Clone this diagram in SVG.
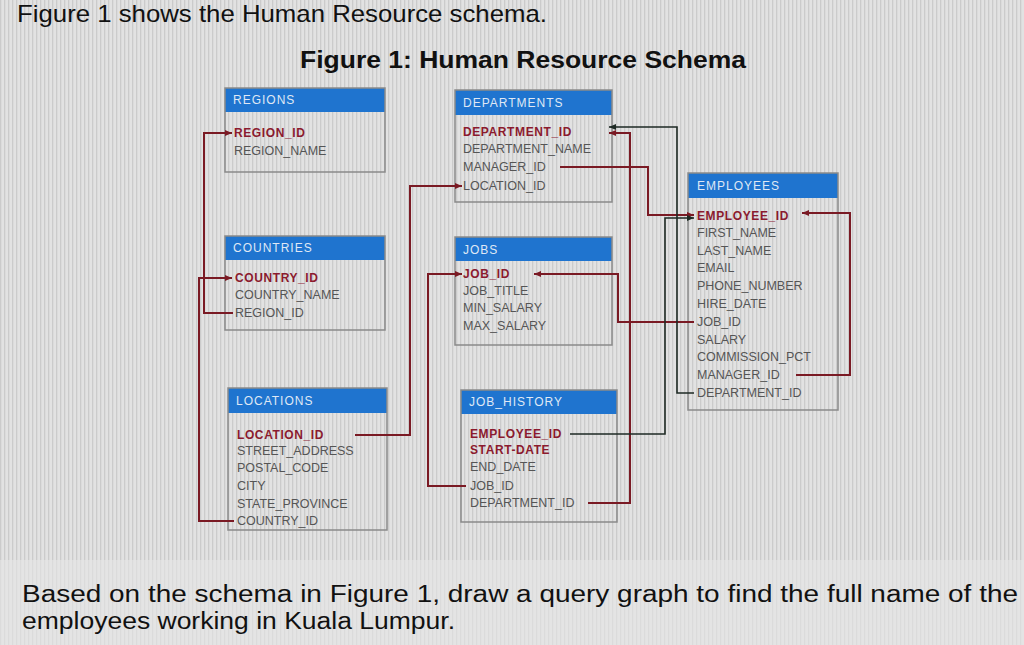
<svg xmlns="http://www.w3.org/2000/svg" width="1024" height="645" viewBox="0 0 1024 645">
<defs>
<pattern id="st" width="4" height="4" patternUnits="userSpaceOnUse"><rect width="4" height="4" fill="#e2e2e2"/><rect width="1.3" height="4" fill="#cbcbcb"/></pattern>
<marker id="ar" markerWidth="8" markerHeight="8" refX="7" refY="4" orient="auto" markerUnits="userSpaceOnUse"><path d="M0,1 L7,4 L0,7 Z" fill="#7a1a24"/></marker>
<marker id="ad" markerWidth="8" markerHeight="8" refX="7" refY="4" orient="auto" markerUnits="userSpaceOnUse"><path d="M0,1 L7,4 L0,7 Z" fill="#1e2a24"/></marker>
</defs>
<style>
.hd{fill:#1f74cf}
.bx{fill:none;stroke:#8a8a8a;stroke-width:1.5}
.ht{font-family:"Liberation Sans",Arial,sans-serif;font-size:12px;fill:#dfe8f5;letter-spacing:1px}
.f{font-family:"Liberation Sans",Arial,sans-serif;font-size:12.5px;fill:#555}
.k{font-family:"Liberation Sans",Arial,sans-serif;font-size:12px;font-weight:bold;fill:#8b1a2e;letter-spacing:0.6px}
.r{fill:none;stroke:#7a1a24;stroke-width:2}
.d{fill:none;stroke:#1e2a24;stroke-width:1.6}
.t{font-family:"Liberation Sans",Arial,sans-serif;fill:#111}
</style>
<rect width="1024" height="645" fill="url(#st)"/>
<rect y="560" width="1024" height="85" fill="#e6e6e6" opacity="0.6"/>
<text class="t" x="17" y="22" font-size="24" textLength="530" lengthAdjust="spacingAndGlyphs">Figure 1 shows the Human Resource schema.</text>
<text class="t" x="300" y="68" font-size="23" font-weight="bold" textLength="446" lengthAdjust="spacingAndGlyphs">Figure 1: Human Resource Schema</text>
<text class="t" x="22" y="602" font-size="23" textLength="996" lengthAdjust="spacingAndGlyphs">Based on the schema in Figure 1, draw a query graph to find the full name of the</text>
<text class="t" x="22" y="629" font-size="23" textLength="433" lengthAdjust="spacingAndGlyphs">employees working in Kuala Lumpur.</text>

<g id="regions"><rect class="hd" x="225" y="88" width="160" height="24"/><rect class="bx" x="225" y="88" width="160" height="84"/><text class="ht" x="233" y="104">REGIONS</text>
<text class="k" x="234" y="137">REGION_ID</text><text class="f" x="234" y="155">REGION_NAME</text></g>
<g id="departments"><rect class="hd" x="455" y="90" width="157" height="25"/><rect class="bx" x="455" y="90" width="157" height="112"/><text class="ht" x="463" y="107">DEPARTMENTS</text>
<text class="k" x="463" y="136">DEPARTMENT_ID</text><text class="f" x="463" y="153">DEPARTMENT_NAME</text><text class="f" x="463" y="171">MANAGER_ID</text><text class="f" x="463" y="190">LOCATION_ID</text></g>
<g id="employees"><rect class="hd" x="688" y="173" width="150" height="25"/><rect class="bx" x="688" y="173" width="150" height="237"/><text class="ht" x="697" y="190">EMPLOYEES</text>
<text class="k" x="697" y="220">EMPLOYEE_ID</text><text class="f" x="697" y="237">FIRST_NAME</text><text class="f" x="697" y="255">LAST_NAME</text><text class="f" x="697" y="272">EMAIL</text><text class="f" x="697" y="290">PHONE_NUMBER</text><text class="f" x="697" y="308">HIRE_DATE</text><text class="f" x="697" y="326">JOB_ID</text><text class="f" x="697" y="344">SALARY</text><text class="f" x="697" y="361">COMMISSION_PCT</text><text class="f" x="697" y="379">MANAGER_ID</text><text class="f" x="697" y="397">DEPARTMENT_ID</text></g>
<g id="countries"><rect class="hd" x="225" y="236" width="160" height="24"/><rect class="bx" x="225" y="236" width="160" height="94"/><text class="ht" x="233" y="252">COUNTRIES</text>
<text class="k" x="235" y="282">COUNTRY_ID</text><text class="f" x="235" y="299">COUNTRY_NAME</text><text class="f" x="235" y="317">REGION_ID</text></g>
<g id="jobs"><rect class="hd" x="455" y="237" width="157" height="24"/><rect class="bx" x="455" y="237" width="157" height="108"/><text class="ht" x="463" y="254">JOBS</text>
<text class="k" x="463" y="278">JOB_ID</text><text class="f" x="463" y="295">JOB_TITLE</text><text class="f" x="463" y="312">MIN_SALARY</text><text class="f" x="463" y="330">MAX_SALARY</text></g>
<g id="locations"><rect class="hd" x="228" y="388" width="159" height="25"/><rect class="bx" x="228" y="388" width="159" height="142"/><text class="ht" x="236" y="405">LOCATIONS</text>
<text class="k" x="237" y="439">LOCATION_ID</text><text class="f" x="237" y="455">STREET_ADDRESS</text><text class="f" x="237" y="472">POSTAL_CODE</text><text class="f" x="237" y="490">CITY</text><text class="f" x="237" y="508">STATE_PROVINCE</text><text class="f" x="237" y="525">COUNTRY_ID</text></g>
<g id="job_history"><rect class="hd" x="461" y="390" width="156" height="24"/><rect class="bx" x="461" y="390" width="156" height="132"/><text class="ht" x="469" y="406">JOB_HISTORY</text>
<text class="k" x="470" y="438">EMPLOYEE_ID</text><text class="k" x="470" y="454">START-DATE</text><text class="f" x="470" y="471">END_DATE</text><text class="f" x="470" y="490">JOB_ID</text><text class="f" x="470" y="507">DEPARTMENT_ID</text></g>

<g id="connectors">
<path class="r" d="M233,313 H204 V133 H232" marker-end="url(#ar)"/>
<path class="r" d="M234,521 H199 V278 H232" marker-end="url(#ar)"/>
<path class="r" d="M355,435 H410 V186 H462" marker-end="url(#ar)"/>
<path class="r" d="M466,486 H428 V274 H462" marker-end="url(#ar)"/>
<path class="r" d="M694,322 H618 V274 H534" marker-end="url(#ar)"/>
<path class="r" d="M588,503 H630 V133 H609" marker-end="url(#ar)"/>
<path class="r" d="M560,167 H648 V215 H694" marker-end="url(#ar)"/>
<path class="r" d="M796,375 H850 V213 H802" marker-end="url(#ar)"/>
<path class="d" d="M694,393 H677 V127 H609" marker-end="url(#ad)"/>
<path class="d" d="M570,434 H665 V218 H694" marker-end="url(#ad)"/>
</g>
</svg>
